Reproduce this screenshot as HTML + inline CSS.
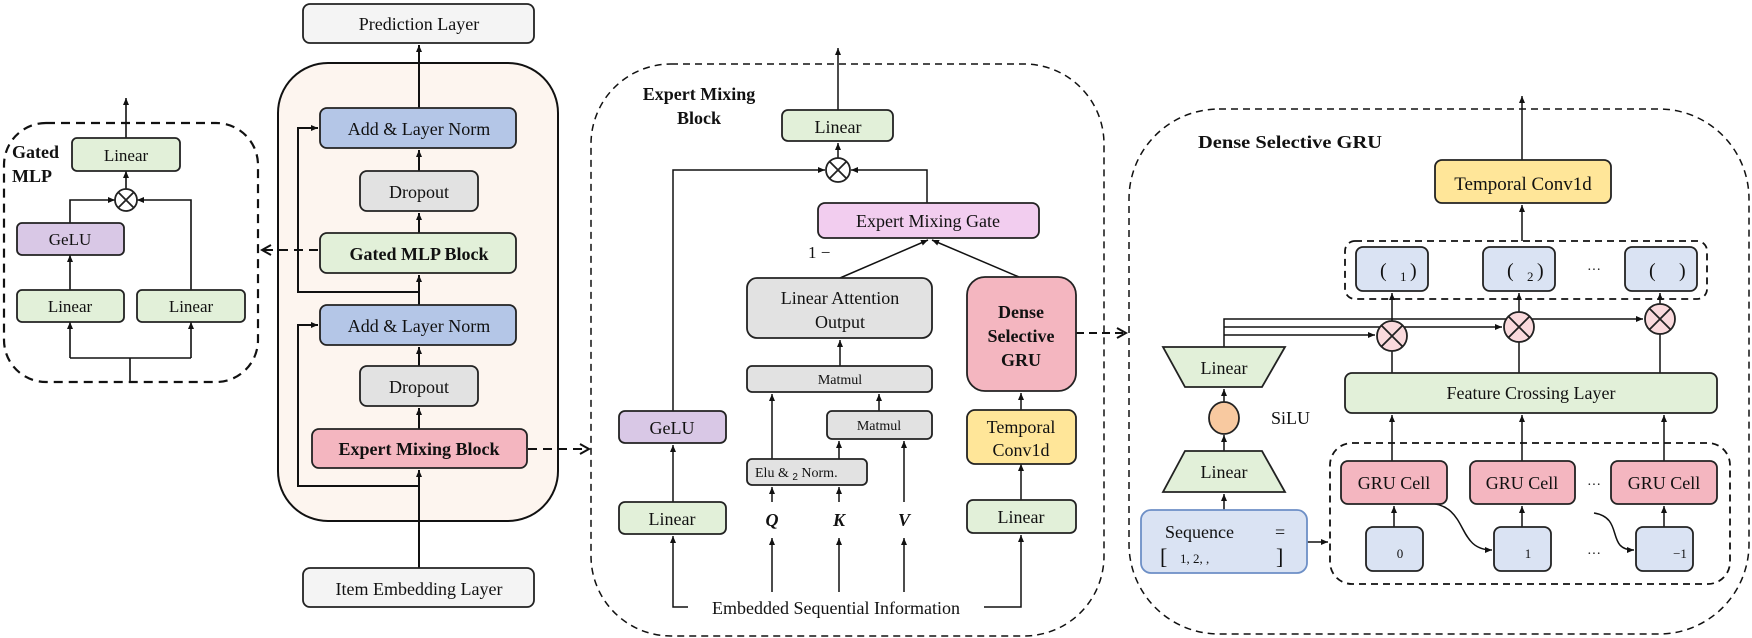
<!DOCTYPE html>
<html><head><meta charset="utf-8"><style>
html,body{margin:0;padding:0;background:#fff}
svg{display:block}
text{font-family:"Liberation Serif",serif;fill:#111}
</style></head><body>
<svg width="1752" height="638" viewBox="0 0 1752 638" xmlns="http://www.w3.org/2000/svg">
<defs>
<marker id="a" markerWidth="8" markerHeight="8" refX="7" refY="4" orient="auto" markerUnits="userSpaceOnUse"><path d="M0,1 L7,4 L0,7 z" fill="#111"/></marker>
<marker id="o" markerWidth="12" markerHeight="12" refX="10" refY="6" orient="auto" markerUnits="userSpaceOnUse"><path d="M1,1 L10,6 L1,11" fill="none" stroke="#111" stroke-width="2"/></marker>
</defs>
<g stroke="#111" stroke-width="1.6" fill="none">
<!-- LEFT Gated MLP -->
<rect x="4" y="123" width="254" height="259" rx="42" stroke-dasharray="9,6" stroke-width="2.2"/>
<line x1="126" y1="138" x2="126" y2="98" marker-end="url(#a)"/>
<line x1="126" y1="189" x2="126" y2="171" marker-end="url(#a)"/>
<polyline points="70,223 70,200 115,200" marker-end="url(#a)"/>
<polyline points="191,290 191,200 137,200" marker-end="url(#a)"/>
<line x1="70" y1="290" x2="70" y2="255" marker-end="url(#a)"/>
<polyline points="70,358 70,322" marker-end="url(#a)"/>
<polyline points="191,358 191,322" marker-end="url(#a)"/>
<line x1="70" y1="358" x2="191" y2="358"/>
<line x1="130" y1="358" x2="130" y2="382"/>
</g>
<g stroke="#222" stroke-width="1.8">
<rect x="72" y="138" width="108" height="33" rx="5" fill="#e2f0d9"/>
<rect x="17" y="223" width="107" height="32" rx="5" fill="#d9c8e6"/>
<rect x="17" y="290" width="107" height="32" rx="5" fill="#e2f0d9"/>
<rect x="137" y="290" width="108" height="32" rx="5" fill="#e2f0d9"/>
<circle cx="126" cy="200" r="11" fill="#fff"/>
<path d="M118,192 L134,208 M134,192 L118,208" fill="none"/>
</g>
<text x="12" y="158" font-size="18" font-weight="bold">Gated</text>
<text x="12" y="182" font-size="18" font-weight="bold">MLP</text>
<text x="126" y="161" font-size="17" text-anchor="middle">Linear</text>
<text x="70" y="245" font-size="17" text-anchor="middle">GeLU</text>
<text x="70" y="312" font-size="17" text-anchor="middle">Linear</text>
<text x="191" y="312" font-size="17" text-anchor="middle">Linear</text>

<!-- MAIN COLUMN -->
<rect x="278" y="63" width="280" height="458" rx="50" fill="#fdf5ef" stroke="#111" stroke-width="2"/>
<g stroke="#111" stroke-width="2" fill="none">
<line x1="419" y1="568" x2="419" y2="470" marker-end="url(#a)"/>
<line x1="419" y1="429" x2="419" y2="408" marker-end="url(#a)"/>
<line x1="419" y1="366" x2="419" y2="347" marker-end="url(#a)"/>
<line x1="419" y1="305" x2="419" y2="275" marker-end="url(#a)"/>
<line x1="419" y1="233" x2="419" y2="213" marker-end="url(#a)"/>
<line x1="419" y1="171" x2="419" y2="150" marker-end="url(#a)"/>
<line x1="419" y1="108" x2="419" y2="45" marker-end="url(#a)"/>
<polyline points="419,486 298,486 298,325 318,325" marker-end="url(#a)"/>
<polyline points="419,292 298,292 298,128 318,128" marker-end="url(#a)"/>
<line x1="318" y1="250" x2="262" y2="250" stroke-dasharray="9,6" marker-end="url(#o)"/>
<line x1="528" y1="449" x2="589" y2="449" stroke-dasharray="9,6" marker-end="url(#o)"/>
</g>
<g stroke="#222" stroke-width="1.8">
<rect x="303" y="4" width="231" height="39" rx="7" fill="#f4f4f4"/>
<rect x="320" y="108" width="196" height="40" rx="7" fill="#b4c6e7"/>
<rect x="360" y="171" width="118" height="40" rx="7" fill="#e2e2e2"/>
<rect x="320" y="233" width="196" height="40" rx="7" fill="#e2f0d9"/>
<rect x="320" y="305" width="196" height="40" rx="7" fill="#b4c6e7"/>
<rect x="360" y="366" width="118" height="40" rx="7" fill="#e2e2e2"/>
<rect x="312" y="429" width="215" height="39" rx="7" fill="#f4b6c0"/>
<rect x="303" y="568" width="231" height="39" rx="7" fill="#f4f4f4"/>
</g>
<text x="419" y="30" font-size="18" text-anchor="middle">Prediction Layer</text>
<text x="419" y="135" font-size="18" text-anchor="middle">Add &amp; Layer Norm</text>
<text x="419" y="198" font-size="18" text-anchor="middle">Dropout</text>
<text x="419" y="260" font-size="18" text-anchor="middle" font-weight="bold">Gated MLP Block</text>
<text x="419" y="332" font-size="18" text-anchor="middle">Add &amp; Layer Norm</text>
<text x="419" y="393" font-size="18" text-anchor="middle">Dropout</text>
<text x="419" y="455" font-size="18" text-anchor="middle" font-weight="bold">Expert Mixing Block</text>
<text x="419" y="595" font-size="18" text-anchor="middle">Item Embedding Layer</text>

<!-- MIDDLE Expert Mixing Block -->
<g stroke="#111" stroke-width="1.5" fill="none">
<rect x="591" y="64" width="513" height="572" rx="80" stroke-dasharray="7,5"/>
<line x1="838" y1="110" x2="838" y2="48" marker-end="url(#a)"/>
<line x1="838" y1="158" x2="838" y2="143" marker-end="url(#a)"/>
<polyline points="673,411 673,170 825,170" marker-end="url(#a)"/>
<polyline points="927,203 927,170 851,170" marker-end="url(#a)"/>
<line x1="840" y1="278" x2="928" y2="240" marker-end="url(#a)"/>
<line x1="1019" y1="277" x2="932" y2="240" marker-end="url(#a)"/>
<line x1="840" y1="366" x2="840" y2="340" marker-end="url(#a)"/>
<line x1="879" y1="411" x2="879" y2="394" marker-end="url(#a)"/>
<line x1="772" y1="459" x2="772" y2="394" marker-end="url(#a)"/>
<line x1="839" y1="459" x2="839" y2="441" marker-end="url(#a)"/>
<line x1="772" y1="502" x2="772" y2="487" marker-end="url(#a)"/>
<line x1="839" y1="502" x2="839" y2="487" marker-end="url(#a)"/>
<line x1="904" y1="502" x2="904" y2="441" marker-end="url(#a)"/>
<line x1="772" y1="592" x2="772" y2="538" marker-end="url(#a)"/>
<line x1="839" y1="592" x2="839" y2="538" marker-end="url(#a)"/>
<line x1="904" y1="592" x2="904" y2="538" marker-end="url(#a)"/>
<line x1="673" y1="502" x2="673" y2="445" marker-end="url(#a)"/>
<polyline points="688,607 673,607 673,536" marker-end="url(#a)"/>
<polyline points="984,607 1021,607 1021,535" marker-end="url(#a)"/>
<line x1="1021" y1="500" x2="1021" y2="464" marker-end="url(#a)"/>
<line x1="1021" y1="410" x2="1021" y2="393" marker-end="url(#a)"/>
<line x1="1076" y1="333" x2="1126" y2="333" stroke-dasharray="8,5" stroke-width="2" marker-end="url(#o)"/>
</g>
<g stroke="#222" stroke-width="1.8">
<rect x="782" y="110" width="111" height="31" rx="6" fill="#e2f0d9"/>
<circle cx="838" cy="170" r="12" fill="#fff"/>
<path d="M829.5,161.5 L846.5,178.5 M846.5,161.5 L829.5,178.5" fill="none"/>
<rect x="818" y="203" width="221" height="35" rx="7" fill="#f2cdef"/>
<rect x="747" y="278" width="185" height="60" rx="10" fill="#e2e2e2"/>
<rect x="747" y="366" width="185" height="26" rx="5" fill="#e2e2e2"/>
<rect x="827" y="411" width="105" height="28" rx="5" fill="#e2e2e2"/>
<rect x="747" y="459" width="120" height="26" rx="5" fill="#e2e2e2"/>
<rect x="619" y="411" width="107" height="32" rx="6" fill="#d9c8e6"/>
<rect x="619" y="502" width="107" height="32" rx="6" fill="#e2f0d9"/>
<rect x="967" y="277" width="109" height="114" rx="18" fill="#f4b6c0"/>
<rect x="967" y="410" width="109" height="54" rx="8" fill="#ffe699"/>
<rect x="967" y="500" width="109" height="33" rx="6" fill="#e2f0d9"/>
</g>
<text x="699" y="100" font-size="18" font-weight="bold" text-anchor="middle">Expert Mixing</text>
<text x="699" y="124" font-size="18" font-weight="bold" text-anchor="middle">Block</text>
<text x="838" y="133" font-size="18" text-anchor="middle">Linear</text>
<text x="928" y="227" font-size="18" text-anchor="middle">Expert Mixing Gate</text>
<text x="808" y="258" font-size="17" font-family="Liberation Mono,monospace">1 −</text>
<text x="840" y="304" font-size="18" text-anchor="middle">Linear Attention</text>
<text x="840" y="328" font-size="18" text-anchor="middle">Output</text>
<text x="840" y="384" font-size="14" text-anchor="middle">Matmul</text>
<text x="879" y="430" font-size="14" text-anchor="middle">Matmul</text>
<text x="755" y="477" font-size="14">Elu &amp;   <tspan font-size="10" font-family="Liberation Sans,sans-serif" dy="3">2</tspan><tspan dy="-3"> Norm.</tspan></text>
<text x="672" y="434" font-size="18" text-anchor="middle">GeLU</text>
<text x="672" y="525" font-size="18" text-anchor="middle">Linear</text>
<text x="772" y="526" font-size="18" font-weight="bold" font-style="italic" text-anchor="middle">Q</text>
<text x="839" y="526" font-size="18" font-weight="bold" font-style="italic" text-anchor="middle">K</text>
<text x="904" y="526" font-size="18" font-weight="bold" font-style="italic" text-anchor="middle">V</text>
<text x="836" y="614" font-size="18" text-anchor="middle">Embedded Sequential Information</text>
<text x="1021" y="318" font-size="18" font-weight="bold" text-anchor="middle">Dense</text>
<text x="1021" y="342" font-size="18" font-weight="bold" text-anchor="middle">Selective</text>
<text x="1021" y="366" font-size="18" font-weight="bold" text-anchor="middle">GRU</text>
<text x="1021" y="433" font-size="18" text-anchor="middle">Temporal</text>
<text x="1021" y="456" font-size="18" text-anchor="middle">Conv1d</text>
<text x="1021" y="523" font-size="18" text-anchor="middle">Linear</text>

<!-- RIGHT Dense Selective GRU -->
<g stroke="#111" stroke-width="1.5" fill="none">
<rect x="1129" y="109" width="620" height="525" rx="90" stroke-dasharray="7,5"/>
<rect x="1345" y="241" width="362" height="58" rx="10" stroke-dasharray="7,5" stroke-width="1.8"/>
<rect x="1330" y="443" width="400" height="141" rx="22" stroke-dasharray="7,5" stroke-width="1.8"/>
<line x1="1522" y1="160" x2="1522" y2="96" marker-end="url(#a)"/>
<line x1="1522" y1="241" x2="1522" y2="205" marker-end="url(#a)"/>
<line x1="1392" y1="373" x2="1392" y2="293" marker-end="url(#a)"/>
<line x1="1519" y1="373" x2="1519" y2="293" marker-end="url(#a)"/>
<line x1="1660" y1="373" x2="1660" y2="293" marker-end="url(#a)"/>
<line x1="1392" y1="461" x2="1392" y2="415" marker-end="url(#a)"/>
<line x1="1522" y1="461" x2="1522" y2="415" marker-end="url(#a)"/>
<line x1="1664" y1="461" x2="1664" y2="415" marker-end="url(#a)"/>
<line x1="1394" y1="527" x2="1394" y2="506" marker-end="url(#a)"/>
<line x1="1522" y1="527" x2="1522" y2="506" marker-end="url(#a)"/>
<line x1="1664" y1="527" x2="1664" y2="506" marker-end="url(#a)"/>
<polyline points="1224,347 1224,319 1643,319" marker-end="url(#a)"/>
<polyline points="1224,327 1502,327" marker-end="url(#a)"/>
<polyline points="1224,335 1375,335" marker-end="url(#a)"/>
<line x1="1224" y1="403" x2="1224" y2="389" marker-end="url(#a)"/>
<line x1="1224" y1="451" x2="1224" y2="435" marker-end="url(#a)"/>
<line x1="1224" y1="510" x2="1224" y2="494" marker-end="url(#a)"/>
<line x1="1307" y1="542" x2="1328" y2="542" marker-end="url(#a)"/>
<path d="M1428,503 C1470,505 1455,550 1492,550" marker-end="url(#a)"/>
<path d="M1594,513 C1625,518 1605,550 1634,550" marker-end="url(#a)"/>
</g>
<g stroke="#222" stroke-width="1.8">
<rect x="1435" y="160" width="176" height="43" rx="7" fill="#ffe699"/>
<rect x="1356" y="247" width="72" height="44" rx="7" fill="#dae3f3"/>
<rect x="1483" y="247" width="72" height="44" rx="7" fill="#dae3f3"/>
<rect x="1625" y="247" width="72" height="44" rx="7" fill="#dae3f3"/>
<rect x="1345" y="373" width="372" height="40" rx="7" fill="#e2f0d9"/>
<rect x="1341" y="461" width="106" height="43" rx="7" fill="#f4b6c0"/>
<rect x="1470" y="461" width="105" height="43" rx="7" fill="#f4b6c0"/>
<rect x="1611" y="461" width="106" height="43" rx="7" fill="#f4b6c0"/>
<rect x="1366" y="527" width="57" height="44" rx="7" fill="#dae3f3"/>
<rect x="1494" y="527" width="57" height="44" rx="7" fill="#dae3f3"/>
<rect x="1636" y="527" width="57" height="44" rx="7" fill="#dae3f3"/>
<polygon points="1163,347 1285,347 1262,387 1185,387" fill="#e2f0d9"/>
<polygon points="1185,451 1262,451 1285,492 1163,492" fill="#e2f0d9"/>
<ellipse cx="1224" cy="418" rx="15" ry="16" fill="#f8c9a0"/>
<rect x="1141" y="510" width="166" height="63" rx="10" fill="#dae3f3" stroke="#6d8fc6"/>
<g fill="#fadadd">
<circle cx="1392" cy="336" r="15"/><circle cx="1519" cy="327" r="15"/><circle cx="1660" cy="319" r="15"/>
</g>
<path d="M1381,325 L1403,347 M1403,325 L1381,347 M1508,316 L1530,338 M1530,316 L1508,338 M1649,308 L1671,330 M1671,308 L1649,330" fill="none"/>
</g>
<text x="1198" y="148" font-size="18" font-weight="bold" textLength="184" lengthAdjust="spacingAndGlyphs">Dense Selective GRU</text>
<text x="1523" y="190" font-size="19" text-anchor="middle">Temporal Conv1d</text>
<g font-family="Liberation Mono,monospace" font-size="20">
<text x="1380" y="277">(</text><text x="1400" y="281" font-size="13">1</text><text x="1410" y="277">)</text>
<text x="1507" y="277">(</text><text x="1527" y="281" font-size="13">2</text><text x="1537" y="277">)</text>
<text x="1649" y="277">(</text><text x="1679" y="277">)</text>
</g>
<text x="1594" y="274" font-size="14" text-anchor="middle">···</text>
<text x="1531" y="399" font-size="18" text-anchor="middle">Feature Crossing Layer</text>
<text x="1394" y="489" font-size="18" text-anchor="middle">GRU Cell</text>
<text x="1522" y="489" font-size="18" text-anchor="middle">GRU Cell</text>
<text x="1664" y="489" font-size="18" text-anchor="middle">GRU Cell</text>
<text x="1594" y="489" font-size="14" text-anchor="middle">···</text>
<text x="1594" y="558" font-size="14" text-anchor="middle">···</text>
<g font-family="Liberation Sans,sans-serif" font-size="13">
<text x="1400" y="558" text-anchor="middle">0</text>
<text x="1528" y="558" text-anchor="middle">1</text>
<text x="1680" y="558" text-anchor="middle">−1</text>
</g>
<text x="1224" y="374" font-size="18" text-anchor="middle">Linear</text>
<text x="1224" y="478" font-size="18" text-anchor="middle">Linear</text>
<text x="1271" y="424" font-size="18">SiLU</text>
<text x="1165" y="538" font-size="18">Sequence</text>
<text x="1275" y="538" font-size="18">=</text>
<text x="1160" y="564" font-size="22">[</text>
<text x="1180" y="563" font-size="13" font-family="Liberation Sans,sans-serif">1,   2,          ,</text>
<text x="1276" y="564" font-size="22">]</text>
</svg>
</body></html>
